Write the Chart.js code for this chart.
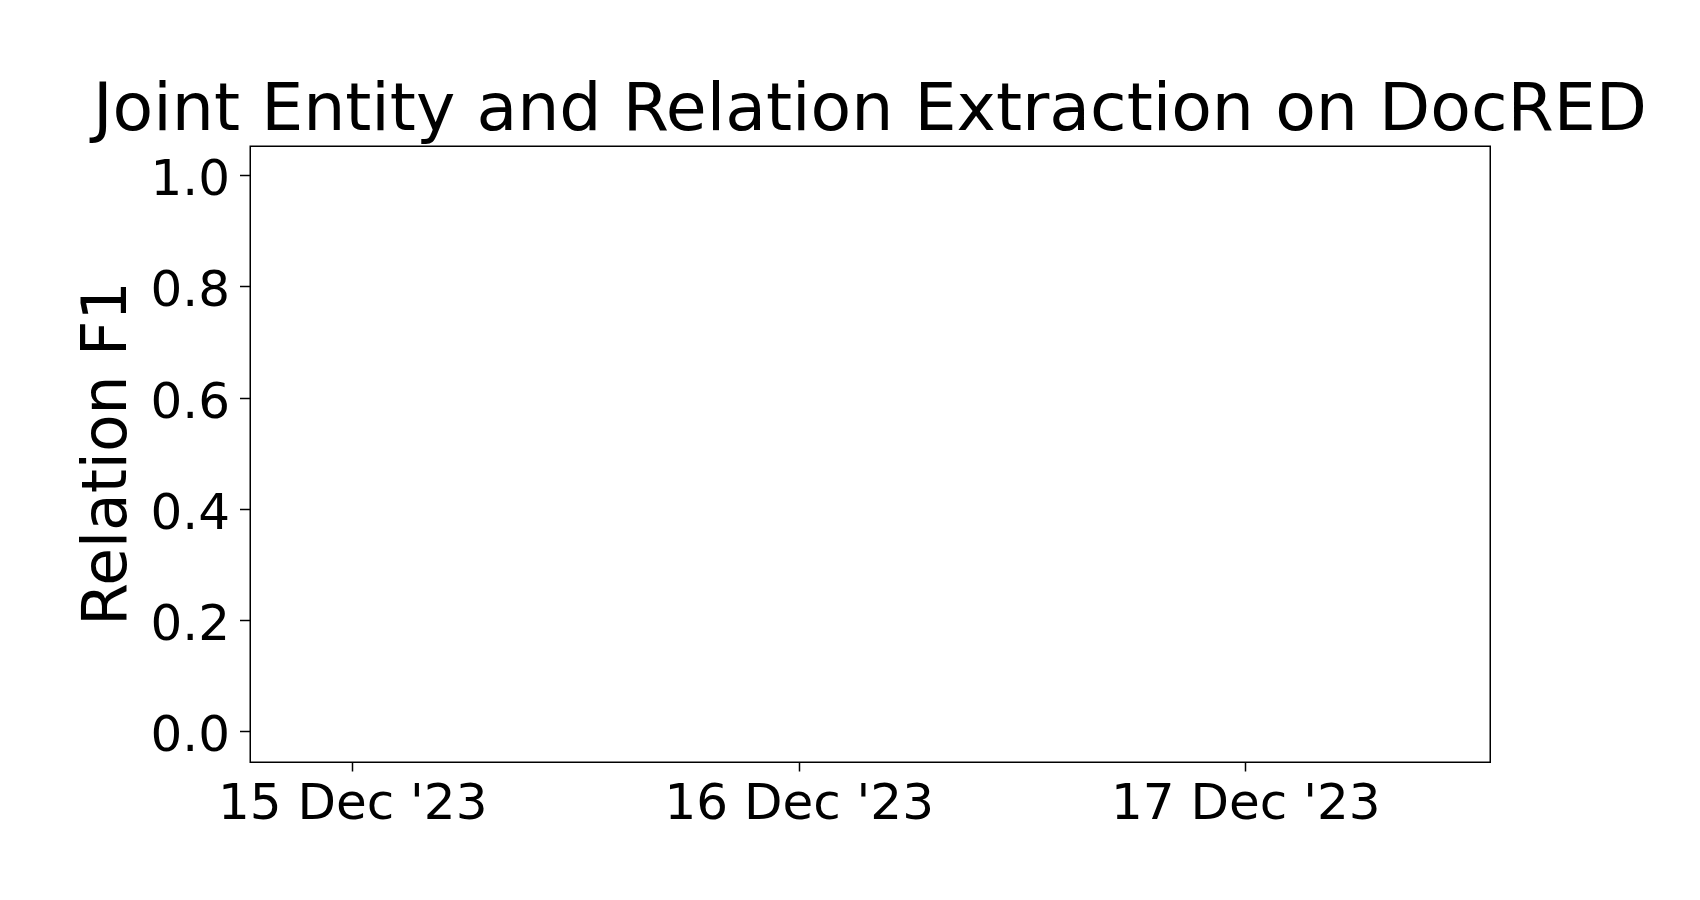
<!DOCTYPE html>
<html>
<head>
<meta charset="utf-8">
<script src="https://cdn.jsdelivr.net/npm/chart.js@4/dist/chart.umd.min.js"></script>
<style>
  html, body { margin: 0; padding: 0; background: #ffffff; }
  #wrap { width: 1700px; height: 900px; }
  canvas { display: block; }
</style>
</head>
<body>
<div id="wrap"><canvas id="c" width="1700" height="900"></canvas></div>
<script>
// ---- data (the reference chart has no plotted points) ----
const dayOffsets = [];            // x positions of results, days after 15 Dec '23
const relationF1 = [];            // Relation F1 values
const xTickValues = [0, 1, 2];
const xTickLabels = ["15 Dec '23", "16 Dec '23", "17 Dec '23"];
const yTickValues = [0.0, 0.2, 0.4, 0.6, 0.8, 1.0];

const chartTitle = 'Joint Entity and Relation Extraction on DocRED';
const yAxisTitle = 'Relation F1';

const FONT = "'DejaVu Sans', 'Liberation Sans', sans-serif";

const framePlugin = {
  id: 'frame',
  afterDraw(chart) {
    const { ctx, chartArea: a } = chart;
    ctx.save();
    ctx.strokeStyle = '#000000';
    ctx.lineWidth = 1.5;
    ctx.strokeRect(Math.round(a.left) + 0.25, Math.round(a.top) + 0.25,
                   Math.round(a.right - a.left), Math.round(a.bottom - a.top));
    ctx.restore();
  }
};

new Chart(document.getElementById('c'), {
  type: 'scatter',
  data: {
    datasets: [{
      label: yAxisTitle,
      data: dayOffsets.map((d, i) => ({ x: d, y: relationF1[i] })),
      backgroundColor: '#1f77b4',
      borderColor: '#1f77b4'
    }]
  },
  options: {
    responsive: false,
    devicePixelRatio: 1,
    animation: false,
    layout: { padding: { left: 40, right: 0, top: 0, bottom: 0 } },
    plugins: {
      legend: { display: false },
      tooltip: { enabled: false },
      title: {
        display: true,
        text: chartTitle,
        fullSize: true,
        color: '#000000',
        font: { family: FONT, size: 66.5, weight: 'normal', lineHeight: 1 },
        padding: { top: 79.2, bottom: 0 }
      }
    },
    scales: {
      x: {
        type: 'linear',
        min: -0.230,
        max: 2.547,
        afterFit(scale) { scale.height = 138.5; },
        afterBuildTicks(scale) { scale.ticks = xTickValues.map(v => ({ value: v })); },
        border: { display: false },
        grid: {
          display: true,
          drawOnChartArea: false,
          drawTicks: true,
          tickLength: 10,
          tickWidth: 1.5,
          tickColor: '#000000'
        },
        ticks: {
          color: '#000000',
          font: { family: FONT, size: 50, lineHeight: 1.2 },
          padding: 5,
          maxRotation: 0,
          autoSkip: false,
          callback: (v) => {
            const i = xTickValues.indexOf(v);
            return i >= 0 ? xTickLabels[i] : '';
          }
        }
      },
      y: {
        type: 'linear',
        position: 'left',
        min: -0.054,
        max: 1.054,
        afterFit(scale) { scale.width = 210; },
        afterBuildTicks(scale) { scale.ticks = yTickValues.map(v => ({ value: v })); },
        border: { display: false },
        grid: {
          display: true,
          drawOnChartArea: false,
          drawTicks: true,
          tickLength: 10,
          tickWidth: 1.5,
          tickColor: '#000000'
        },
        ticks: {
          color: '#000000',
          font: { family: FONT, size: 50, lineHeight: 1.2 },
          padding: 10,
          labelOffset: 6.6,
          autoSkip: false,
          callback: (v) => v.toFixed(1)
        },
        title: {
          display: true,
          text: yAxisTitle,
          color: '#000000',
          font: { family: FONT, size: 61.5, lineHeight: 1.2 },
          padding: { top: 33.0, bottom: 0 }
        }
      },
      yRight: {
        type: 'linear',
        position: 'right',
        min: 0,
        max: 1,
        afterFit(scale) { scale.width = 210; },
        border: { display: false },
        grid: { display: false, drawTicks: false },
        ticks: { display: false }
      }
    }
  },
  plugins: [framePlugin]
});
</script>
</body>
</html>
